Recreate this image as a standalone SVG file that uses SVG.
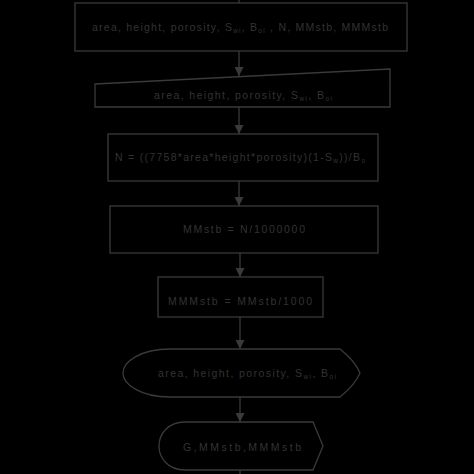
<svg xmlns="http://www.w3.org/2000/svg" width="474" height="474" viewBox="0 0 474 474">
<style>
.s{fill:#000;stroke:#3a3a3a;stroke-width:1.3}
.c{stroke:#3a3a3a;stroke-width:1.3;fill:none}
text{font-family:"Liberation Sans",Arial,sans-serif;font-size:10.5px;fill:#333;text-anchor:middle}
.sub{font-size:6.5px}
</style>
<defs>
<marker id="a" viewBox="0 0 10 10" refX="10" refY="5" markerWidth="9" markerHeight="9" markerUnits="userSpaceOnUse" orient="auto">
<path d="M0,0L10,5L0,10z" fill="#3a3a3a"/>
</marker>
</defs>
<rect width="474" height="474" fill="#000"/>
<g id="connectors">
<line class="c" x1="239" y1="0" x2="239" y2="3"/>
<line class="c" x1="239" y1="51" x2="239" y2="76" marker-end="url(#a)"/>
<line class="c" x1="239" y1="107" x2="239" y2="134" marker-end="url(#a)"/>
<line class="c" x1="239" y1="181" x2="239" y2="206" marker-end="url(#a)"/>
<line class="c" x1="240" y1="253" x2="240" y2="277" marker-end="url(#a)"/>
<line class="c" x1="240" y1="317" x2="240" y2="349" marker-end="url(#a)"/>
<line class="c" x1="240" y1="397" x2="240" y2="422" marker-end="url(#a)"/>
<line class="c" x1="240" y1="470" x2="240" y2="474"/>
</g>
<g id="n1">
<rect class="s" x="75" y="3" width="332" height="48"/>
<text x="240" y="31" textLength="296" lengthAdjust="spacing">area, height, porosity, S<tspan class="sub" dy="2">wi</tspan><tspan dy="-2">, B</tspan><tspan class="sub" dy="2">oi</tspan><tspan dy="-2"> , N, MMstb, MMMstb</tspan></text>
</g>
<g id="n2">
<path class="s" d="M95,84L390,69L390,107L95,107Z"/>
<text x="243" y="99" textLength="178" lengthAdjust="spacing">area, height, porosity, S<tspan class="sub" dy="2">wi</tspan><tspan dy="-2">, B</tspan><tspan class="sub" dy="2">oi</tspan></text>
</g>
<g id="n3">
<rect class="s" x="108" y="134" width="270" height="47"/>
<text x="240" y="161" textLength="250" lengthAdjust="spacing">N = ((7758*area*height*porosity)(1-S<tspan class="sub" dy="2">w</tspan><tspan dy="-2">))/B</tspan><tspan class="sub" dy="2">o</tspan></text>
</g>
<g id="n4">
<rect class="s" x="110" y="206" width="268" height="47"/>
<text x="244" y="233" textLength="122" lengthAdjust="spacing">MMstb = N/1000000</text>
</g>
<g id="n5">
<rect class="s" x="158" y="277" width="165" height="40"/>
<text x="240" y="305" textLength="144" lengthAdjust="spacing">MMMstb = MMstb/1000</text>
</g>
<g id="n6">
<path class="s" d="M170,349L340,349Q355,361 360,373Q355,385 340,397L170,397C140,397 123,384 123,373C123,362 140,349 170,349Z"/>
<text x="247" y="377" textLength="178" lengthAdjust="spacing">area, height, porosity, S<tspan class="sub" dy="2">wi</tspan><tspan dy="-2">, B</tspan><tspan class="sub" dy="2">oi</tspan></text>
</g>
<g id="n7">
<path class="s" d="M185,422L313,422L323,446L313,470L185,470C168,470 159,458 159,446C159,434 168,422 185,422Z"/>
<text x="242" y="451" textLength="118" lengthAdjust="spacing">G,MMstb,MMMstb</text>
</g>
</svg>
